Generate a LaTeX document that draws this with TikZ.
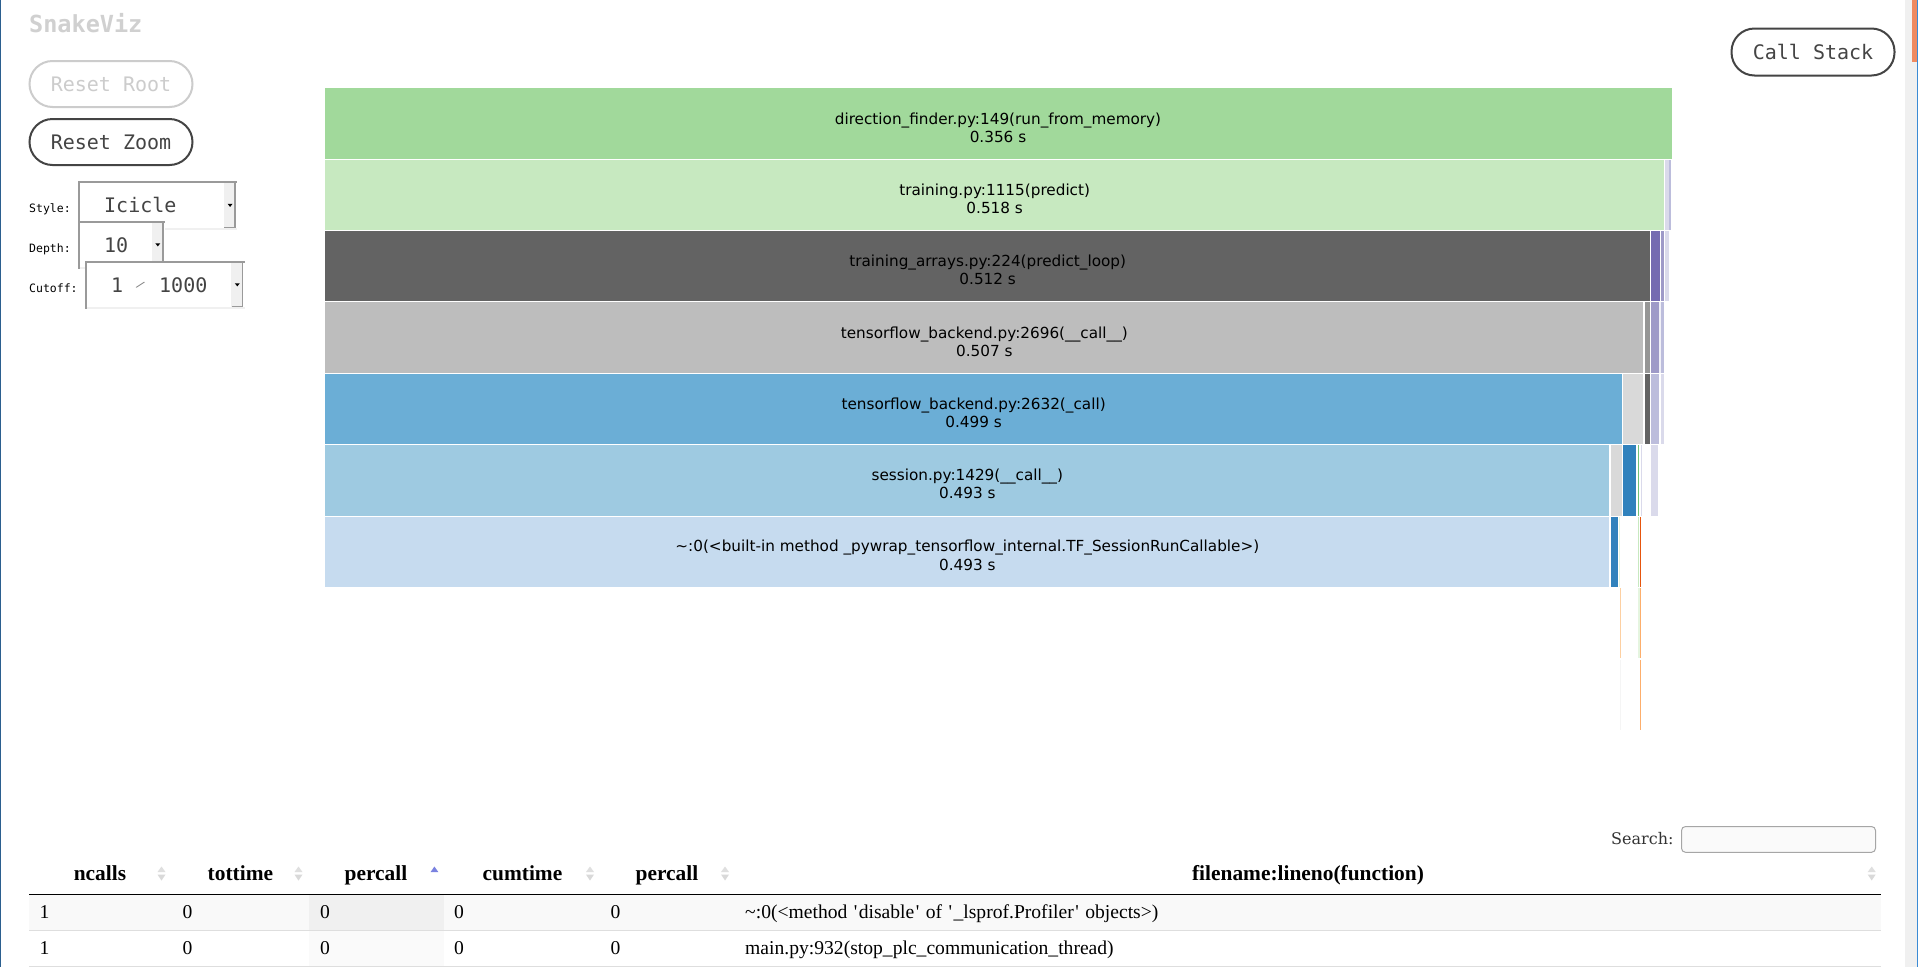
\documentclass[tikz,border=0pt]{standalone}
\usepackage{fontspec}
\setmainfont{Liberation Serif}
\newfontfamily\cellf{Liberation Serif}
\newfontfamily\monof{DejaVu Sans Mono}
\newfontfamily\sansf{DejaVu Sans}
\newfontfamily\serifd{DejaVu Serif}
\definecolor{cg1}{HTML}{A1D99B}
\definecolor{cg2}{HTML}{C7E9C0}
\definecolor{cg3}{HTML}{74C476}
\definecolor{cg4}{HTML}{E5F5E0}
\definecolor{cd1}{HTML}{636363}
\definecolor{cd2}{HTML}{969696}
\definecolor{cd3}{HTML}{BDBDBD}
\definecolor{cd4}{HTML}{D9D9D9}
\definecolor{cb1}{HTML}{3182BD}
\definecolor{cb2}{HTML}{6BAED6}
\definecolor{cb3}{HTML}{9ECAE1}
\definecolor{cb4}{HTML}{C6DBEF}
\definecolor{cp1}{HTML}{756BB1}
\definecolor{cp2}{HTML}{9E9AC8}
\definecolor{cp3}{HTML}{BCBDDC}
\definecolor{cp4}{HTML}{DADAEB}
\definecolor{co1}{HTML}{E6550D}
\definecolor{co2}{HTML}{FDAE6B}
\definecolor{co3}{HTML}{FDD0A2}
\definecolor{ink}{HTML}{444444}
\definecolor{faded}{HTML}{CCCCCC}
\definecolor{titlec}{HTML}{D0D0D0}
\definecolor{selb}{HTML}{9A9A9A}
\definecolor{selbg}{HTML}{F0F0F0}
\definecolor{edgel}{HTML}{2B5F8F}
\definecolor{edger}{HTML}{3B8BD5}
\definecolor{thumb}{HTML}{F08A60}
\definecolor{sortb}{HTML}{7A82E0}
\newcommand{\fr}[5]{\fill[#5] (#1,#2) rectangle (#3,#4);}
\newcommand{\qk}{\kern1.5pt'\kern1.5pt}
\newcommand{\selbox}[4]{%
  \fill[white] (#1,#2) rectangle (#3,#4);
  \fill[selbg] (#1,#4-2) rectangle (#3,#4);
  \fill[selbg] (#3-13.5,#2) rectangle (#3-3,#4-2);
  \fill[selb] (#3-3,#2) rectangle (#3-1.2,#4-2);
  \fill[selb] (#3-13,#4-3.4) rectangle (#3-1.2,#4-2);
  \fill[selb] (#1,#2) rectangle (#3,#2+2);
  \fill[selb] (#1,#2) rectangle (#1+2,#4);
  \fill[black] (#3-9.7,{(#2+#4)/2-1.5}) -- ++(5,0) -- ++(-2.5,3.2) -- cycle;
}
\newcommand{\sorticon}[1]{%
  \fill[cd4!85] (#1-4,872) -- (#1+4,872) -- (#1,866.5) -- cycle;
  \fill[cd4] (#1-4,874.5) -- (#1+4,874.5) -- (#1,880.5) -- cycle;
}
\tikzset{
  flab/.style={font=\sansf\fontsize{15.25}{18.2}\selectfont,align=center,inner sep=0pt,text=black},
  pill/.style={draw=ink,line width=2pt,rounded corners=23pt,fill=white},
  pillfaded/.style={pill,draw=faded},
  btnlab/.style={font=\monof\fontsize{20}{20}\selectfont,text=ink,inner sep=0pt},
  sellab/.style={font=\monof\fontsize{11.5}{12}\selectfont,text=black,inner sep=0pt,anchor=base west},
  seltxt/.style={font=\monof\fontsize{20}{20}\selectfont,text=ink,inner sep=0pt,anchor=base west},
  hd/.style={font=\cellf\bfseries\fontsize{21.4}{23}\selectfont,text=black,inner sep=0pt,anchor=base},
  cell/.style={font=\cellf\fontsize{19.6}{22}\selectfont,text=black,inner sep=0pt,anchor=base west},
}
\begin{document}
\begin{tikzpicture}[x=1pt,y=-1pt]
\useasboundingbox (0,0) rectangle (1918,967);
\fill[white] (0,0) rectangle (1918,967);
% window edges and scrollbar
\fr{0}{0}{1}{967}{edgel}
\fr{1905}{0}{1917}{967}{selbg}
\fr{1912}{0}{1917}{62}{thumb}
\fr{1917}{0}{1918}{967}{edger}
% header widgets
\node[font=\monof\bfseries\fontsize{23.5}{24}\selectfont,text=titlec,inner sep=0pt,anchor=base west] (title) at (29,32) {SnakeViz};
\draw[pillfaded] (29.5,61) rectangle (192.5,107);
\node[btnlab,text=faded] (resetroot) at (111,84) {Reset Root};
\draw[pill] (29.5,119) rectangle (192.5,165);
\node[btnlab] (resetzoom) at (111,142) {Reset Zoom};
\draw[pill] (1731.5,28.5) rectangle (1894.5,75.5);
\node[btnlab] (callstack) at (1813,52) {Call Stack};
% selects
\node[sellab] (lstyle) at (29,212) {Style:};
\node[sellab] (ldepth) at (29,252) {Depth:};
\node[sellab] (lcutoff) at (29,292) {Cutoff:};
\selbox{77.7}{180.5}{237.3}{230}
\node[seltxt] (icicle) at (104,212) {Icicle};
\selbox{77.7}{220.5}{165}{269}
\node[seltxt] (depth) at (104,252) {10};
\selbox{84.8}{260.5}{244.5}{309}
\node[seltxt] (cutoff) at (111,292) {1};
\node[seltxt] (cutoffb) at (159,292) {1000};
\node[font=\monof\fontsize{11}{11}\selectfont,text=gray,inner sep=0pt,rotate=-32] (slash) at (140.6,285.5) {/};
% icicle rows
\fr{325.3}{88.3}{1671.5}{158.5}{cg1}
\fr{325.3}{159.5}{1664}{230}{cg2}
\fr{1665}{159.5}{1668.7}{230}{cp4}
\fr{1669.2}{159.5}{1671}{230}{cp3}
\fr{325.3}{231}{1650}{301}{cd1}
\fr{1651}{231}{1660}{301}{cp1}
\fr{1660.7}{231}{1664}{301}{cp2}
\fr{1665}{231}{1668.7}{301}{cp4}
\fr{325.3}{302}{1643.3}{373}{cd3}
\fr{1644.7}{302}{1650}{373}{cd2}
\fr{1651}{302}{1658.7}{373}{cp2}
\fr{1659}{302}{1661}{373}{cp4!40}
\fr{1661.3}{302}{1664}{373}{cp3}
\fr{325.3}{374}{1622}{444}{cb2}
\fr{1623}{374}{1643.3}{444}{cd4}
\fr{1644.7}{374}{1650}{444}{cd1}
\fr{1651}{374}{1658.7}{444}{cp3}
\fr{1661.3}{374}{1664}{444}{cp4}
\fr{325.3}{445}{1609.3}{515.5}{cb3}
\fr{1610.7}{445}{1622.3}{515.5}{cd4}
\fr{1623}{445}{1636}{515.5}{cb1}
\fr{1637.7}{445}{1639}{515.5}{cg3}
\fr{1641}{445}{1642.3}{515.5}{cp4}
\fr{1651.3}{445}{1658.3}{515.5}{cp4}
\fr{325.3}{516.5}{1609.3}{587}{cb4}
\fr{1610.7}{516.5}{1618}{587}{cb1}
\fr{1619.3}{516.5}{1620.3}{587}{cg4}
\fr{1637.7}{516.5}{1639.3}{587}{cg2}
\fr{1640}{516.5}{1641.3}{587}{co1}
\fr{1620}{588}{1621.3}{658}{co3}
\fr{1637.7}{588}{1639.7}{658}{cg4}
\fr{1640}{588}{1641.2}{658}{co2}
\fr{1619.7}{659.5}{1620.2}{729.5}{black!4}
\fr{1640}{659.5}{1641.2}{729.5}{co2}
\node[flab] (n1) at (998,127.8) {direction\_finder.py:149(run\_from\_memory)\\0.356 s};
\node[flab] (n2) at (994.7,198.8) {training.py:1115(predict)\\0.518 s};
\node[flab] (n3) at (987.7,270) {training\_arrays.py:224(predict\_loop)\\0.512 s};
\node[flab] (n4) at (984.3,341.5) {tensorflow\_backend.py:2696(\_\_call\_\_)\\0.507 s};
\node[flab] (n5) at (973.6,412.8) {tensorflow\_backend.py:2632(\_call)\\0.499 s};
\node[flab] (n6) at (967.3,483.8) {session.py:1429(\_\_call\_\_)\\0.493 s};
\node[flab] (n7) at (967.3,555.4) {\textasciitilde:0(<built-in method \_pywrap\_tensorflow\_internal.TF\_SessionRunCallable>)\\0.493 s};
% search
\node[font=\serifd\fontsize{16}{18}\selectfont,text=black!80,inner sep=0pt,anchor=base west] (search) at (1611,844) {Search:};
\draw[draw=black!35,fill=black!2,rounded corners=4pt,line width=1pt] (1681.5,826.5) rectangle (1875.5,852.3);
% table
\fr{29}{895}{1881}{930}{black!2.5}
\fr{309}{895}{444}{930}{black!6}
\fr{309}{931}{444}{966}{black!2}
\draw[black,line width=1.3pt] (29,894.3) -- (1881,894.3);
\draw[black!13,line width=1pt] (29,930.5) -- (1881,930.5);
\draw[black!13,line width=1pt] (29,966.4) -- (1881,966.4);
\node[hd] (h1) at (100,880.5) {ncalls};
\node[hd] (h2) at (240.4,880.5) {tottime};
\node[hd] (h3) at (376,880.5) {percall};
\node[hd] (h4) at (522.5,880.5) {cumtime};
\node[hd] (h5) at (667,880.5) {percall};
\node[hd] (h6) at (1308,880.5) {filename:lineno(function)};
\sorticon{161.5}
\sorticon{298.5}
\fill[sortb] (430.6,872) -- (438.3,872) -- (434.4,866.5) -- cycle;
\sorticon{590}
\sorticon{725}
\sorticon{1871.7}
\node[cell] (a1) at (39.5,918) {1};
\node[cell] (a2) at (182.5,918) {0};
\node[cell] (a3) at (320,918) {0};
\node[cell] (a4) at (454,918) {0};
\node[cell] (a5) at (610.5,918) {0};
\node[cell] (a6) at (745,918) {\textasciitilde:0(<method \qk disable\qk{} of \qk\_lsprof.Profiler\qk{} objects>)};
\node[cell] (b1) at (39.5,954) {1};
\node[cell] (b2) at (182.5,954) {0};
\node[cell] (b3) at (320,954) {0};
\node[cell] (b4) at (454,954) {0};
\node[cell] (b5) at (610.5,954) {0};
\node[cell] (b6) at (745,954) {main.py:932(stop\_plc\_communication\_thread)};
\end{tikzpicture}
\end{document}
